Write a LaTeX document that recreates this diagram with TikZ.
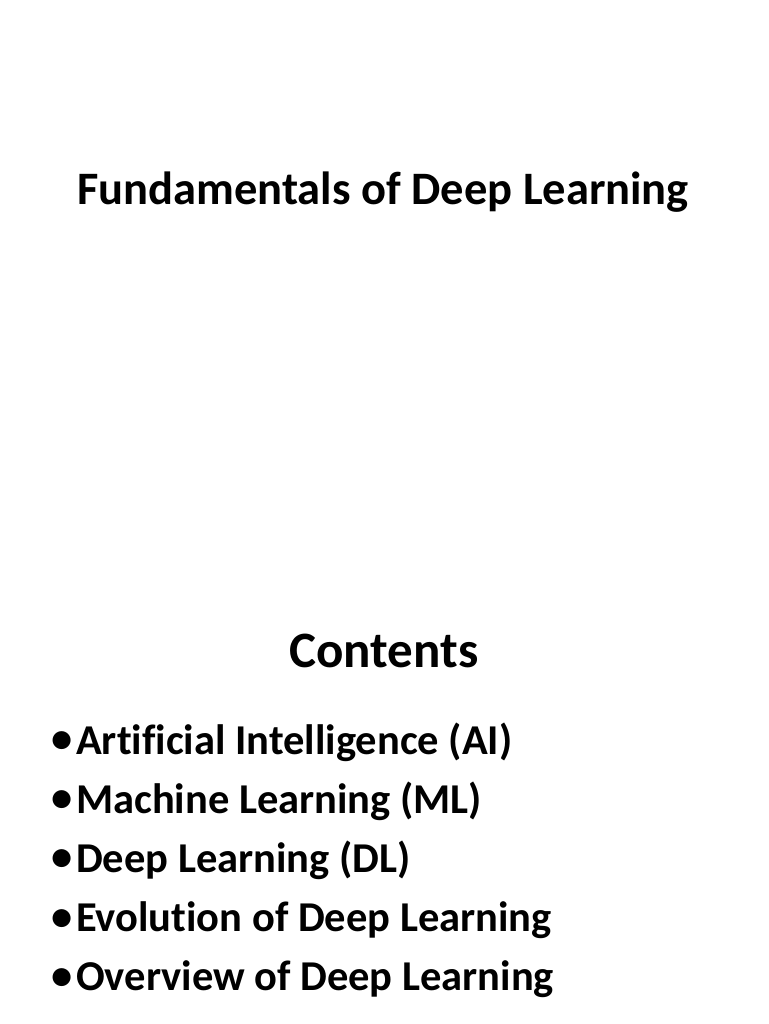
\documentclass[tikz,border=0pt]{standalone}
\usepackage{fontspec}
\setmainfont[Ligatures={NoCommon}]{Carlito}
\begin{document}
\begin{tikzpicture}[x=1pt,y=-1pt,
  title/.style={font=\bfseries\fontsize{46.5}{50}\selectfont,inner sep=0pt},
  head/.style={font=\bfseries\fontsize{51}{56}\selectfont,inner sep=0pt},
  item/.style={font=\bfseries\fontsize{42.5}{48}\selectfont,inner sep=0pt,anchor=west}]
\useasboundingbox (0,0) rectangle (768,1024);
\node[title] (t) at (383,192) {Fundamentals of Deep Learning};
\node[head] (c) at (384,651) {Contents};
\foreach \y/\txt [count=\i] in {742/Artificial Intelligence (AI),801/Machine Learning (ML),860/Deep Learning (DL),920/Evolution of Deep Learning,979/Overview of Deep Learning}{
  \node[item] (d\i) at (51,\y) {\textbullet};
  \node[item] (b\i) at (76,\y) {\txt};
}
\end{tikzpicture}
\end{document}
